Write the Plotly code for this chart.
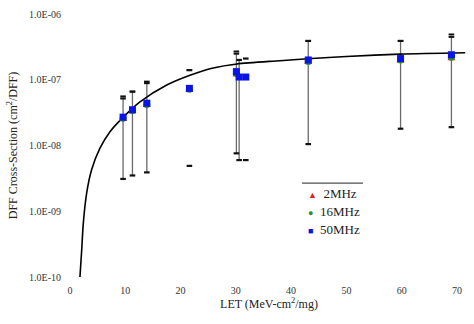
import plotly.graph_objects as go

# LET values (MeV-cm2/mg) and DFF cross-sections (cm2/DFF)
let_50 = [9.6, 11.3, 13.9, 21.6, 30.1, 30.6, 31.8, 43.1, 59.8, 69.0]
sig_50 = [2.7e-8, 3.5e-8, 4.4e-8, 7.4e-8, 1.33e-7, 1.1e-7, 1.1e-7, 2.0e-7, 2.1e-7, 2.4e-7]
hi_50 = [5.2e-8, 6.6e-8, 8.9e-8, 1.4e-7, 2.5e-7, 2.0e-7, 2.1e-7, 3.9e-7, 3.9e-7, 4.5e-7]
lo_50 = [3.1e-9, 3.5e-9, 3.9e-9, 4.9e-9, 7.6e-9, 6.0e-9, 6.0e-9, 1.05e-8, 1.8e-8, 1.9e-8]
whisker_50 = [True, True, True, False, True, True, False, True, True, True]

let_16 = [9.6, 11.3, 13.9, 21.6, 30.1, 43.1, 59.8, 69.0]
sig_16 = [2.6e-8, 3.4e-8, 4.2e-8, 7.2e-8, 1.25e-7, 1.9e-7, 2.0e-7, 2.2e-7]
hi_16 = [5.6e-8, 6.6e-8, 9.4e-8, 1.4e-7, 2.7e-7, 3.9e-7, 3.9e-7, 4.9e-7]

let_2 = [9.6, 11.3, 13.9, 21.6, 30.1, 43.1, 59.8, 69.0]
sig_2 = [2.5e-8, 3.3e-8, 4.1e-8, 7.0e-8, 1.2e-7, 1.85e-7, 1.95e-7, 2.1e-7]

# Weibull fit curve, sampled
curve_let = [1.8, 2.12, 2.41, 3.02, 3.92, 5.42, 7.23, 9.64, 12.66, 17.5, 21.7,
             25.9, 30.2, 38.0, 43.0, 50.0, 59.7, 71.5]
curve_sig = [1.0e-10, 2.6e-10, 6.6e-10, 1.9e-9, 4.3e-9, 9.1e-9, 1.62e-8, 2.7e-8,
             4.6e-8, 8.3e-8, 1.17e-7, 1.51e-7, 1.74e-7, 1.95e-7, 2.09e-7,
             2.26e-7, 2.45e-7, 2.57e-7]

y_tickvals = [1e-10, 1e-9, 1e-8, 1e-7, 1e-6]
y_ticktext = ["1.0E-10", "1.0E-09", "1.0E-08", "1.0E-07", "1.0E-06"]
x_tickvals = [0, 10, 20, 30, 40, 50, 60, 70]

series_names = ["2MHz", "16MHz", "50MHz"]
series_colors = ["#d42a1e", "#2e8b2e", "#0a14e6"]
series_glyphs = ["\u25B2", "\u25CF", "\u25A0"]

SERIF = "Liberation Serif, Times New Roman, serif"
BAR = "#6a6a6a"

fig = go.Figure()

# error-bar whiskers
wx, wy = [], []
for L, lo, hi, w in zip(let_50, lo_50, hi_50, whisker_50):
    if w:
        wx += [L, L, None]
        wy += [lo, hi, None]
fig.add_trace(go.Scatter(x=wx, y=wy, mode="lines", line=dict(color=BAR, width=1.3),
                         showlegend=False, hoverinfo="skip"))

# error-bar caps
fig.add_trace(go.Scatter(x=let_50 + let_50, y=hi_50 + lo_50, mode="markers",
                         marker=dict(symbol="line-ew", size=4,
                                     line=dict(color="#111", width=2.2)),
                         showlegend=False, hoverinfo="skip"))
fig.add_trace(go.Scatter(x=let_16, y=hi_16, mode="markers",
                         marker=dict(symbol="line-ew", size=4,
                                     line=dict(color="#111", width=1.8)),
                         showlegend=False, hoverinfo="skip"))

# fit curve
fig.add_trace(go.Scatter(x=curve_let, y=curve_sig, mode="lines",
                         line=dict(color="black", width=1.6, shape="spline", smoothing=0.8),
                         showlegend=False, hoverinfo="skip"))

fig.add_trace(go.Scatter(x=let_2, y=sig_2, mode="markers", name=series_names[0],
                         showlegend=False,
                         marker=dict(symbol="triangle-up", size=7, color=series_colors[0])))
fig.add_trace(go.Scatter(x=let_16, y=sig_16, mode="markers", name=series_names[1],
                         showlegend=False,
                         marker=dict(symbol="circle", size=7, color=series_colors[1])))
fig.add_trace(go.Scatter(x=let_50, y=sig_50, mode="markers", name=series_names[2],
                         showlegend=False,
                         marker=dict(symbol="square", size=7, color=series_colors[2])))

# legend block: rule on top, then one row per series
fig.add_shape(type="line", xref="paper", yref="paper",
              x0=0.583, x1=0.736, y0=0.357, y1=0.357,
              line=dict(color="#222", width=1))
for i, (name, col, glyph) in enumerate(zip(series_names, series_colors, series_glyphs)):
    fig.add_annotation(
        xref="paper", yref="paper", x=0.593, y=0.319 - 0.0685 * i,
        xanchor="left", yanchor="middle", showarrow=False,
        text=f"<span style='color:{col};font-size:9px'>{glyph}</span>  {name}",
        font=dict(family=SERIF, size=13, color="#222"),
    )

fig.update_layout(
    width=474, height=324,
    margin=dict(l=70, r=6, t=14, b=47),
    paper_bgcolor="white", plot_bgcolor="white",
    font=dict(family=SERIF, color="#222", size=11),
    showlegend=False,
    xaxis=dict(range=[0, 72], tickvals=x_tickvals, showgrid=False, zeroline=False,
               showline=False, ticks="", ticklabelstandoff=6,
               tickfont=dict(size=10, color="#333"),
               title=dict(text="LET (MeV-cm<sup>2</sup>/mg)", standoff=4,
                          font=dict(size=12, color="#222"))),
    yaxis=dict(type="log", range=[-10, -6], tickvals=y_tickvals, ticktext=y_ticktext,
               showgrid=False, zeroline=False, showline=False, ticks="",
               ticklabelstandoff=8, tickfont=dict(size=10, color="#333"),
               title=dict(text="DFF Cross-Section (cm<sup>2</sup>/DFF)", standoff=8,
                          font=dict(size=12, color="#222"))),
)

fig.write_html("out.html")
